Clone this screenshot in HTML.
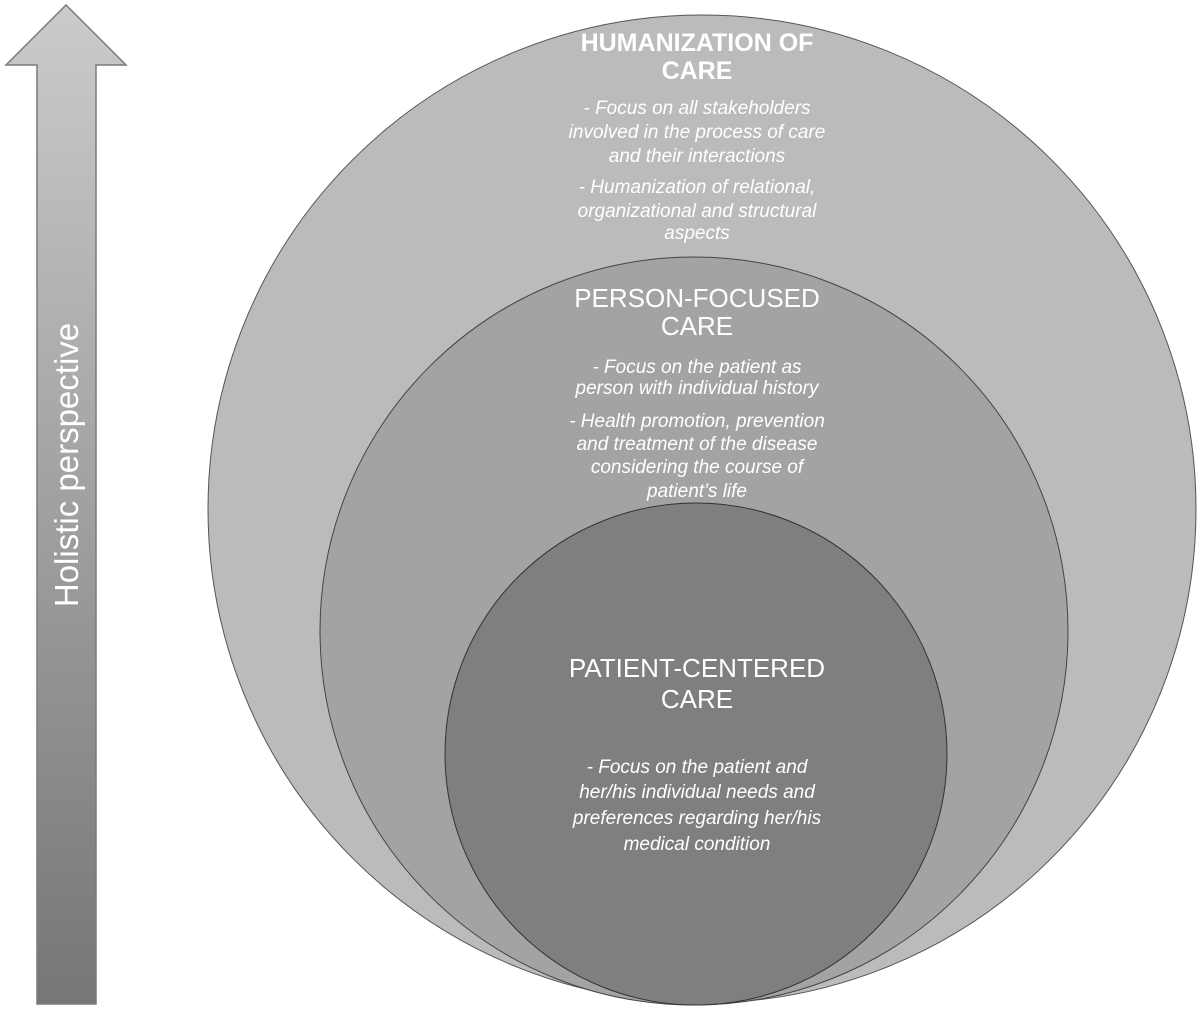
<!DOCTYPE html>
<html><head><meta charset="utf-8"><style>
html,body{margin:0;padding:0;background:#fff;width:1200px;height:1009px;overflow:hidden}
svg text{font-family:"Liberation Sans",Arial,sans-serif;fill:#fff}
.i{font-style:italic;font-size:19px}
.h{font-size:26px}
.b{font-weight:bold;font-size:25px}
</style></head><body>
<svg width="1200" height="1009" viewBox="0 0 1200 1009" xmlns="http://www.w3.org/2000/svg">
<defs>
<linearGradient id="g" x1="0" y1="0" x2="0" y2="1">
<stop offset="0" stop-color="#cbcbcb"/><stop offset="1" stop-color="#767676"/>
</linearGradient>
</defs>
<polygon points="66,5 126,65 96,65 96,1004 37,1004 37,65 6,65" fill="url(#g)" stroke="#7a7a7a" stroke-width="1.5"/>
<text transform="translate(78,465) rotate(-90)" text-anchor="middle" font-size="33" style="fill:#fff">Holistic perspective</text>
<circle cx="702" cy="509" r="494" fill="#bbbbbb" stroke="#555" stroke-width="1"/>
<circle cx="694" cy="631" r="374" fill="#a3a3a3" stroke="#444" stroke-width="1"/>
<circle cx="696" cy="754" r="251" fill="#7f7f7f" stroke="#333" stroke-width="1"/>
<g text-anchor="middle">
<text x="697" y="51" class="b">HUMANIZATION OF</text>
<text x="697" y="79" class="b">CARE</text>
<text x="697" y="114" class="i">- Focus on all stakeholders</text>
<text x="697" y="138" class="i">involved in the process of care</text>
<text x="697" y="162" class="i">and their interactions</text>
<text x="697" y="193" class="i">- Humanization of relational,</text>
<text x="697" y="217" class="i">organizational and structural</text>
<text x="697" y="239" class="i">aspects</text>
<text x="697" y="307" class="h">PERSON-FOCUSED</text>
<text x="697" y="335" class="h">CARE</text>
<text x="697" y="373" class="i">- Focus on the patient as</text>
<text x="697" y="394" class="i">person with individual history</text>
<text x="697" y="427" class="i">- Health promotion, prevention</text>
<text x="697" y="450" class="i">and treatment of the disease</text>
<text x="697" y="473" class="i">considering the course of</text>
<text x="697" y="497" class="i">patient’s life</text>
<text x="697" y="677" class="h">PATIENT-CENTERED</text>
<text x="697" y="708" class="h">CARE</text>
<text x="697" y="773" class="i">-  Focus on the patient and</text>
<text x="697" y="798" class="i">her/his individual needs and</text>
<text x="697" y="824" class="i">preferences regarding her/his</text>
<text x="697" y="850" class="i">medical condition</text>
</g>
</svg>
</body></html>
